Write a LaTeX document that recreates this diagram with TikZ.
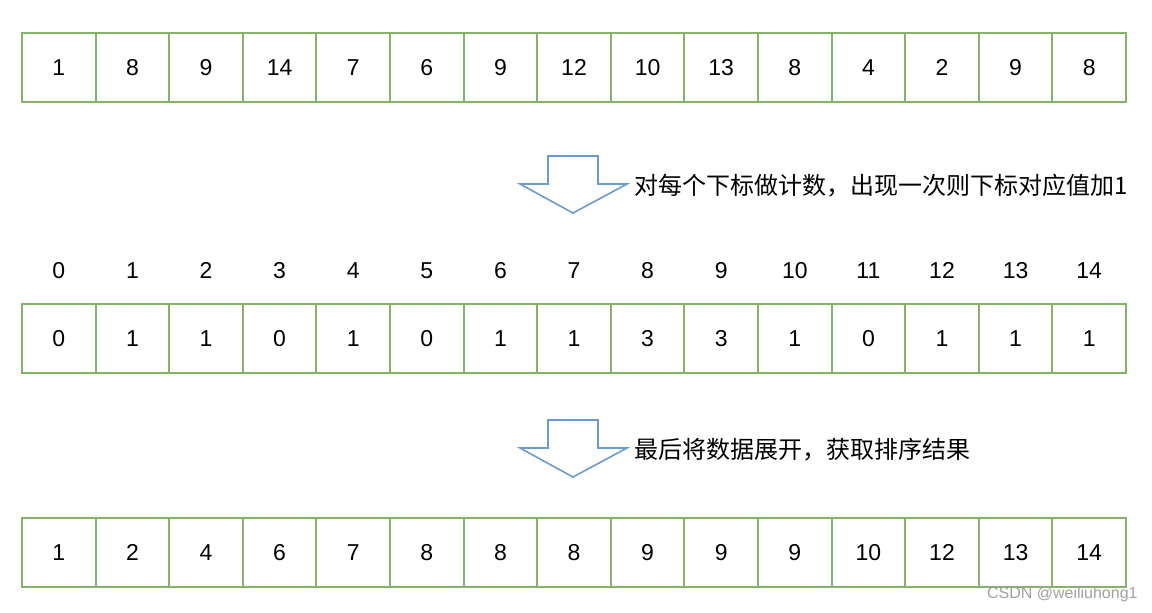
\documentclass[tikz,border=0pt]{standalone}
\usepackage{fontspec}
\setmainfont{Liberation Sans}
\newfontfamily\cjk{Noto Sans CJK SC}
\definecolor{cellgreen}{HTML}{82B366}
\definecolor{arrowblue}{HTML}{6C9BD2}
\definecolor{wmgray}{HTML}{A0A0A0}
\begin{document}
\begin{tikzpicture}[x=0.5pt,y=-0.5pt,
  cell/.style={draw=cellgreen,line width=1pt,minimum width=36.8pt,minimum height=34.5pt,inner sep=0pt,text height=8.3pt,text depth=0pt,font=\fontsize{11.5}{13}\selectfont},
  idx/.style={inner sep=0pt,text height=8.3pt,text depth=0pt,font=\fontsize{11.5}{13}\selectfont},
  hollowarrow/.style={draw=arrowblue,line width=0.8pt,line join=miter},
  note/.style={anchor=west,inner sep=0pt,font=\cjk\fontsize{12}{14}\selectfont}]
\useasboundingbox (0,0) rectangle (1152,612);
\foreach [count=\i from 0] \v in {1,8,9,14,7,6,9,12,10,13,8,4,2,9,8}
  \node[cell] (a\i) at ({22+73.6*(\i+0.5)},67) {\v};
\foreach [count=\i from 0] \v in {0,1,1,0,1,0,1,1,3,3,1,0,1,1,1}
  \node[cell] (b\i) at ({22+73.6*(\i+0.5)},338) {\v};
\foreach \i in {0,...,14}
  \node[idx] (i\i) at ({22+73.6*(\i+0.5)},270) {\i};
\foreach [count=\i from 0] \v in {1,2,4,6,7,8,8,8,9,9,9,10,12,13,14}
  \node[cell] (c\i) at ({22+73.6*(\i+0.5)},552) {\v};
\draw[hollowarrow] (548,156) -- (598,156) -- (598,184) -- (627,184) -- (573,213) -- (520,184) -- (548,184) -- cycle;
\draw[hollowarrow] (548,420) -- (598,420) -- (598,448) -- (627,448) -- (573,477) -- (520,448) -- (548,448) -- cycle;
\node[note] (t1) at (634,186) {对每个下标做计数，出现一次则下标对应值加1};
\node[note] (t2) at (634,450) {最后将数据展开，获取排序结果};
\node[anchor=east,inner sep=0pt,text=wmgray,font=\fontsize{8}{9}\selectfont] (wm) at (1138,594) {CSDN @weiliuhong1};
\end{tikzpicture}
\end{document}
